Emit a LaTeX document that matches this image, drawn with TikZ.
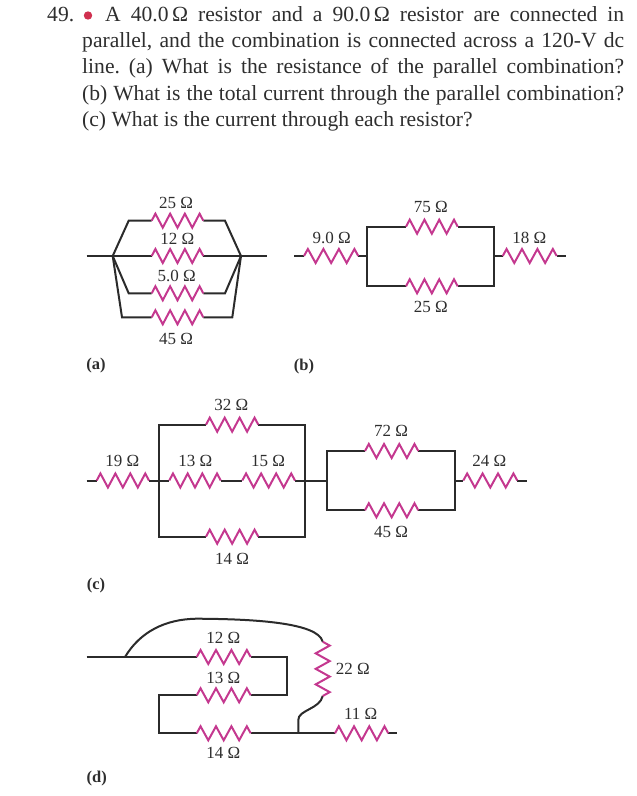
\documentclass[tikz,border=0pt]{standalone}
\usepackage{fontspec}
\setmainfont{Liberation Serif}
\usetikzlibrary{calc}
\definecolor{wirec}{HTML}{2B2B2B}
\definecolor{resc}{HTML}{C4388F}
\definecolor{txtc}{HTML}{2E2E2E}
\definecolor{dotc}{HTML}{D0304F}
\tikzset{
  wire/.style={draw=wirec,line width=2pt,line join=miter},
  res/.style={draw=resc,line width=2pt,line join=miter},
  val/.style={font=\fontsize{17}{19}\selectfont,text=txtc,inner sep=0pt},
  tag/.style={font=\fontsize{16.5}{18}\selectfont\bfseries,text=txtc,inner sep=0pt},
  body/.style={font=\fontsize{21.6}{24}\selectfont\frenchspacing,text=txtc,inner sep=0pt,anchor=base west}
}
\newcommand{\Zig}[2]{%
  \draw[res] (#1)
  -- ($(#1)!1/14!(#2)!7pt!90:(#2)$)
  -- ($(#1)!3/14!(#2)!7pt!-90:(#2)$)
  -- ($(#1)!5/14!(#2)!7pt!90:(#2)$)
  -- ($(#1)!7/14!(#2)!7pt!-90:(#2)$)
  -- ($(#1)!9/14!(#2)!7pt!90:(#2)$)
  -- ($(#1)!11/14!(#2)!7pt!-90:(#2)$)
  -- ($(#1)!13/14!(#2)!7pt!90:(#2)$)
  -- (#2);}
\newcommand{\Co}[2]{\coordinate (#1) at (#2);}
\begin{document}
\begin{tikzpicture}[x=1pt,y=-1pt]
\useasboundingbox (0,0) rectangle (637,796);
% question text
\node[body] (n49) at (47,21) {49.};
\fill[dotc] (88,15.5) circle (4.2pt);
\node[body] (l1) at (105,21) {\hbox to 519pt{A 40.0\,Ω resistor and a 90.0\,Ω resistor are connected in}};
\node[body] (l2) at (82,47.4) {\hbox to 542pt{parallel, and the combination is connected across a 120-V dc}};
\node[body] (l3) at (82,73.8) {\hbox to 542pt{line. (a) What is the resistance of the parallel combination?}};
\node[body] (l4) at (82,100.2) {\hbox to 542pt{(b) What is the total current through the parallel combination?}};
\node[body] (l5) at (82,126.6) {(c) What is the current through each resistor?};

% (a)
\Co{aL}{86.7,256}\Co{aR}{266.7,256}\Co{aJ1}{112.7,256}\Co{aJ2}{241,256}
\Co{aT1}{128.7,220.7}\Co{aT2}{225,220.7}
\Co{aC1}{128.7,293.3}\Co{aC2}{225,293.3}
\Co{aD1}{122,317.3}\Co{aD2}{232.3,317.3}
\Co{ra1}{151.7,220.7}\Co{ra2}{203.3,220.7}
\Co{rb1}{151.7,256}\Co{rb2}{203.3,256}
\Co{rc1}{151.7,293.3}\Co{rc2}{203.3,293.3}
\Co{rd1}{151.7,317.3}\Co{rd2}{203.3,317.3}
\draw[wire] (aL) -- (rb1) (rb2) -- (aR);
\draw[wire] (aJ1) -- (aT1) -- (ra1) (ra2) -- (aT2) -- (aJ2);
\draw[wire] (aJ1) -- (aC1) -- (rc1) (rc2) -- (aC2) -- (aJ2);
\draw[wire] (aJ1) -- (aD1) -- (rd1) (rd2) -- (aD2) -- (aJ2);
\Zig{ra1}{ra2}\Zig{rb1}{rb2}\Zig{rc1}{rc2}\Zig{rd1}{rd2}
\node[val] (v25a) at (176,202.7) {25 Ω};
\node[val] (v12a) at (177.3,239.3) {12 Ω};
\node[val] (v5a) at (176.7,276) {5.0 Ω};
\node[val] (v45a) at (176,338.7) {45 Ω};
\node[tag] (ta) at (96,366) {(a)};

% (b)
\Co{bL}{294,256}\Co{bR}{566,256}
\Co{bTL}{366.7,226.7}\Co{bTR}{494.3,226.7}\Co{bBL}{366.7,286.3}\Co{bBR}{494.3,286.3}
\Co{bML}{366.7,256}\Co{bMR}{494.3,256}
\Co{s11}{304,256}\Co{s12}{358.3,256}
\Co{s21}{406,226.7}\Co{s22}{457.7,226.7}
\Co{s31}{406,286.3}\Co{s32}{457.7,286.3}
\Co{s41}{502.7,256}\Co{s42}{556.7,256}
\draw[wire] (bL) -- (s11) (s12) -- (bML) (bMR) -- (s41) (s42) -- (bR);
\draw[wire] (s21) -- (bTL) -- (bBL) -- (s31) (s32) -- (bBR) -- (bTR) -- (s22);
\Zig{s11}{s12}\Zig{s21}{s22}\Zig{s31}{s32}\Zig{s41}{s42}
\node[val] (v75b) at (430.7,207.3) {75 Ω};
\node[val] (v25b) at (430.7,307.3) {25 Ω};
\node[val] (v9b) at (331.7,237.7) {9.0 Ω};
\node[val] (v18b) at (529.3,237.7) {18 Ω};
\node[tag] (tb) at (304,366.7) {(b)};

% (c)
\Co{cL}{86.7,480.5}
\Co{cTL}{159,424.7}\Co{cTR}{305,424.7}\Co{cBL}{159,536.7}\Co{cBR}{305,536.7}
\Co{cML}{159,480.5}\Co{cMR}{305,480.5}
\Co{p11}{96.7,480.5}\Co{p12}{149,480.5}
\Co{p21}{206,424.7}\Co{p22}{258.3,424.7}
\Co{p31}{169.3,480.5}\Co{p32}{220.7,480.5}
\Co{p41}{242.3,480.5}\Co{p42}{295,480.5}
\Co{p51}{206,536.7}\Co{p52}{258.3,536.7}
\Co{dTL}{326.7,451}\Co{dTR}{454.7,451}\Co{dBL}{326.7,510.3}\Co{dBR}{454.7,510.3}
\Co{dML}{326.7,480.5}\Co{dMR}{454.7,480.5}
\Co{p61}{365,451}\Co{p62}{418.3,451}
\Co{p71}{365,510.3}\Co{p72}{418.3,510.3}
\Co{p81}{463.3,480.5}\Co{p82}{517.3,480.5}\Co{cR}{526.7,480.5}
\draw[wire] (cL) -- (p11) (p12) -- (p31) (p32) -- (p41) (p42) -- (dML);
\draw[wire] (p21) -- (cTL) -- (cBL) -- (p51) (p52) -- (cBR) -- (cTR) -- (p22);
\draw[wire] (p61) -- (dTL) -- (dBL) -- (p71) (p72) -- (dBR) -- (dTR) -- (p62);
\draw[wire] (dMR) -- (p81) (p82) -- (cR);
\Zig{p11}{p12}\Zig{p21}{p22}\Zig{p31}{p32}\Zig{p41}{p42}\Zig{p51}{p52}\Zig{p61}{p62}\Zig{p71}{p72}\Zig{p81}{p82}
\node[val] (v32c) at (231.3,405.3) {32 Ω};
\node[val] (v19c) at (122.3,461.3) {19 Ω};
\node[val] (v13c) at (195.3,461.3) {13 Ω};
\node[val] (v15c) at (268,461.3) {15 Ω};
\node[val] (v14c) at (232,558.7) {14 Ω};
\node[val] (v72c) at (391,431) {72 Ω};
\node[val] (v45c) at (391,532.3) {45 Ω};
\node[val] (v24c) at (489.3,461) {24 Ω};
\node[tag] (tc) at (96,586) {(c)};

% (d)
\Co{eL}{86.7,657}\Co{eJ}{125,657}
\Co{q11}{196.7,657}\Co{q12}{250.7,657}
\Co{eC1}{286.7,657}\Co{eC2}{286.7,695.3}
\Co{q21}{196.7,695.3}\Co{q22}{250.7,695.3}
\Co{eC3}{159.3,695.3}\Co{eC4}{159.3,733.3}
\Co{q31}{196.7,733.3}\Co{q32}{250.7,733.3}
\Co{eJ2}{298.3,733.3}
\Co{q41}{335,733.3}\Co{q42}{388.3,733.3}\Co{eR}{397.3,733.3}
\Co{q51}{322.7,641.7}\Co{q52}{322.7,696}
\draw[wire] (eL) -- (q11) (q12) -- (eC1) -- (eC2) -- (q22) (q21) -- (eC3) -- (eC4) -- (q31) (q32) -- (q41) (q42) -- (eR);
\draw[wire] (eJ) .. controls (140,632) and (165,619) .. (197,618.7) .. controls (250,619) and (318,622) .. (q51);
\draw[wire] (q52) .. controls (320,709) and (298,710) .. (298.3,720) -- (eJ2);
\Zig{q11}{q12}\Zig{q21}{q22}\Zig{q31}{q32}\Zig{q41}{q42}\Zig{q51}{q52}
\node[val] (v12d) at (223.3,638.3) {12 Ω};
\node[val] (v13d) at (223.3,678.3) {13 Ω};
\node[val] (v14d) at (223.3,753.3) {14 Ω};
\node[val] (v11d) at (360.7,714.3) {11 Ω};
\node[val] (v22d) at (352.7,669) {22 Ω};
\node[tag] (td) at (96.7,779) {(d)};
\end{tikzpicture}
\end{document}
